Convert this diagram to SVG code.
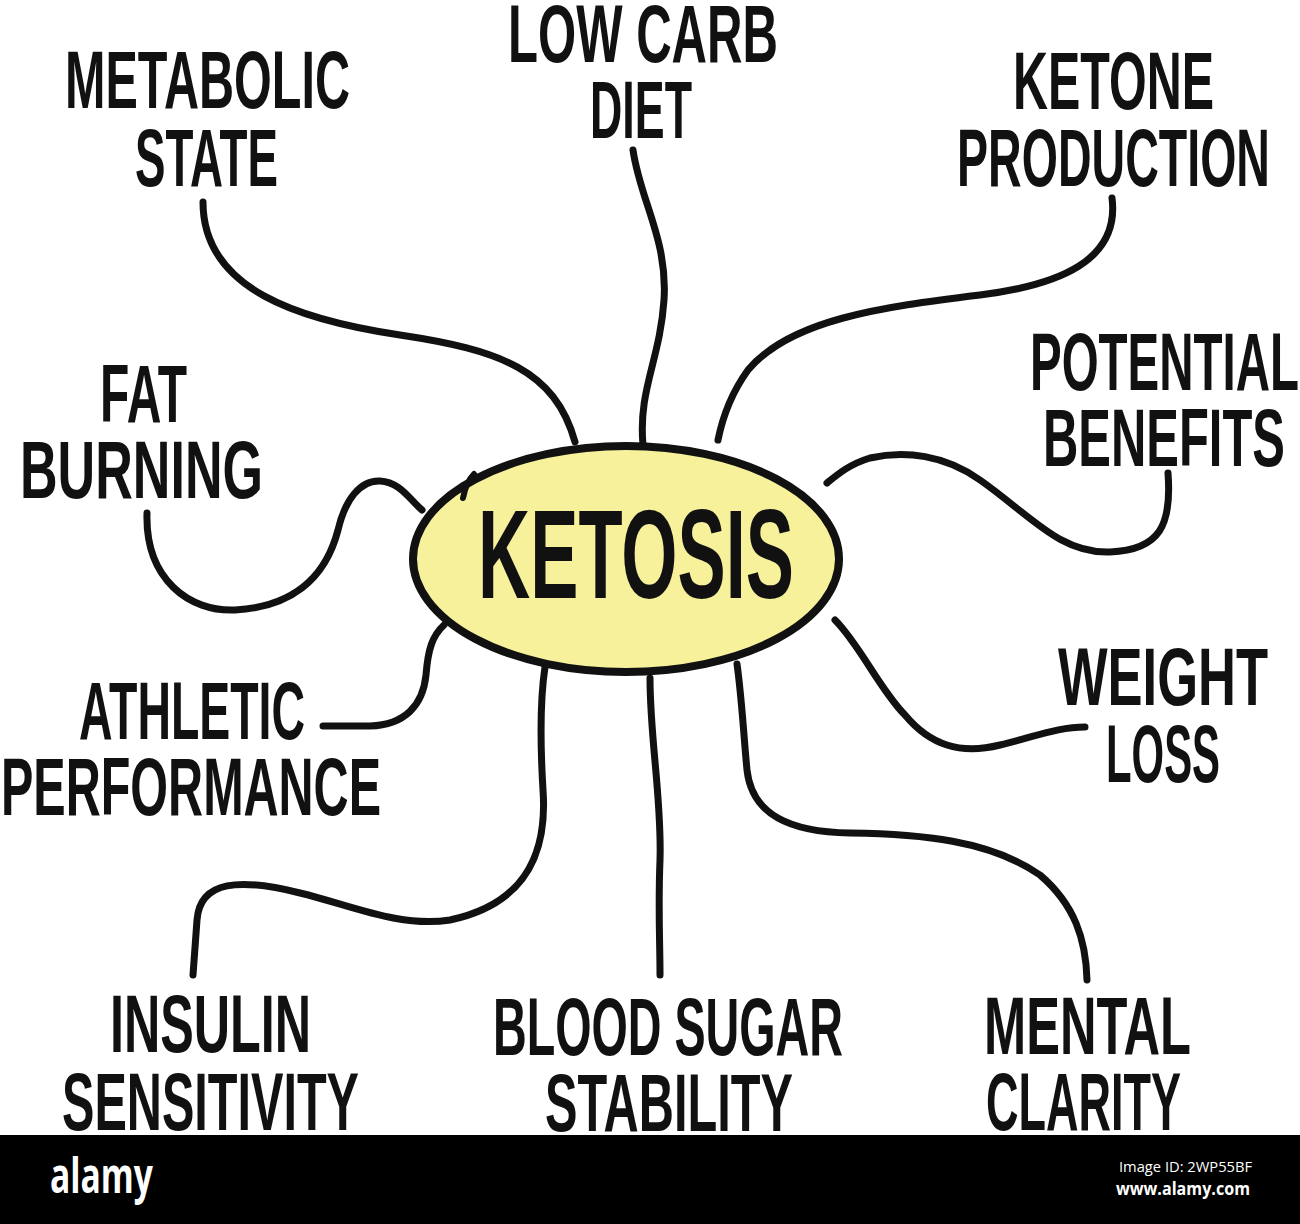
<svg xmlns="http://www.w3.org/2000/svg" width="1300" height="1224" viewBox="0 0 1300 1224">
  <defs>
    <style>
      .lbl { font-family: "Liberation Sans", "DejaVu Sans", sans-serif; font-weight: bold; fill: #111; }
      .conn { fill: none; stroke: #111; stroke-width: 7; stroke-linecap: round; stroke-linejoin: round; }
      .wm { font-family: "Open Sans", "DejaVu Sans", sans-serif; fill: #fff; }
    </style>
  </defs>
  <rect x="0" y="0" width="1300" height="1224" fill="#ffffff"/>

  <g id="connectors">
    <path class="conn" d="M203,202 C203,290 300,320 400,335 C500,350 555,370 575,442"/>
    <path class="conn" d="M633,150 C640,200 668,240 664,300 C660,360 638,390 643,445"/>
    <path class="conn" d="M1112,198 C1120,260 1060,285 980,295 C880,307 790,320 748,370 C730,395 722,420 718,440"/>
    <path class="conn" d="M1168,473 C1172,525 1160,550 1110,552 C1060,554 1030,515 980,480 C945,455 905,450 870,458 C850,464 838,474 827,483"/>
    <path class="conn" d="M147,513 C145,580 190,612 235,610 C290,607 325,580 338,530 C345,500 360,480 380,481 C400,482 410,500 422,510"/>
    <path class="conn" d="M444,625 C432,636 428,650 426,675 C423,705 405,725 370,726 L323,726"/>
    <path class="conn" d="M835,620 C860,645 880,690 905,715 C930,745 960,755 1000,745 C1040,735 1060,727 1085,727"/>
    <path class="conn" d="M737,664 C742,700 744,740 747,770 C752,815 790,832 850,833 C920,834 990,840 1040,875 C1075,905 1086,940 1087,980"/>
    <path class="conn" d="M650,678 C650,740 662,800 660,860 C658,910 660,940 660,975"/>
    <path class="conn" d="M545,667 C540,700 540,740 543,790 C548,860 520,905 450,920 C400,928 350,905 300,893 C240,878 200,880 197,920 L193,975"/>
  </g>

  <g id="ketosis">
    <ellipse cx="626" cy="559" rx="213" ry="113" fill="#f7f19c" stroke="#111" stroke-width="8"/>
    <path d="M463,498 C465,488 468,480 474,474" fill="none" stroke="#111" stroke-width="6" stroke-linecap="round"/>
    <text class="lbl" x="636" y="598" font-size="126" text-anchor="middle" textLength="316" lengthAdjust="spacingAndGlyphs">KETOSIS</text>
  </g>

  <g id="metabolic-state">
    <text class="lbl" x="65" y="108" font-size="82" textLength="285" lengthAdjust="spacingAndGlyphs">METABOLIC</text>
    <text class="lbl" x="135" y="186" font-size="82" textLength="143" lengthAdjust="spacingAndGlyphs">STATE</text>
  </g>
  <g id="low-carb-diet">
    <text class="lbl" x="508" y="62" font-size="82" textLength="270" lengthAdjust="spacingAndGlyphs">LOW CARB</text>
    <text class="lbl" x="590" y="138" font-size="82" textLength="102" lengthAdjust="spacingAndGlyphs">DIET</text>
  </g>
  <g id="ketone-production">
    <text class="lbl" x="1214" y="109" font-size="82" text-anchor="end" textLength="201" lengthAdjust="spacingAndGlyphs">KETONE</text>
    <text class="lbl" x="1270" y="186" font-size="82" text-anchor="end" textLength="313" lengthAdjust="spacingAndGlyphs">PRODUCTION</text>
  </g>
  <g id="potential-benefits">
    <text class="lbl" x="1299" y="390" font-size="82" text-anchor="end" textLength="269" lengthAdjust="spacingAndGlyphs">POTENTIAL</text>
    <text class="lbl" x="1285" y="466" font-size="82" text-anchor="end" textLength="242" lengthAdjust="spacingAndGlyphs">BENEFITS</text>
  </g>
  <g id="fat-burning">
    <text class="lbl" x="100" y="422" font-size="82" textLength="87" lengthAdjust="spacingAndGlyphs">FAT</text>
    <text class="lbl" x="20" y="498" font-size="82" textLength="243" lengthAdjust="spacingAndGlyphs">BURNING</text>
  </g>
  <g id="athletic-performance">
    <text class="lbl" x="79" y="739" font-size="82" textLength="226" lengthAdjust="spacingAndGlyphs">ATHLETIC</text>
    <text class="lbl" x="1" y="815" font-size="82" textLength="380" lengthAdjust="spacingAndGlyphs">PERFORMANCE</text>
  </g>
  <g id="weight-loss">
    <text class="lbl" x="1268" y="705" font-size="82" text-anchor="end" textLength="210" lengthAdjust="spacingAndGlyphs">WEIGHT</text>
    <text class="lbl" x="1220" y="782" font-size="82" text-anchor="end" textLength="114" lengthAdjust="spacingAndGlyphs">LOSS</text>
  </g>
  <g id="insulin-sensitivity">
    <text class="lbl" x="110" y="1052" font-size="82" textLength="201" lengthAdjust="spacingAndGlyphs">INSULIN</text>
    <text class="lbl" x="62" y="1130" font-size="82" textLength="297" lengthAdjust="spacingAndGlyphs">SENSITIVITY</text>
  </g>
  <g id="blood-sugar-stability">
    <text class="lbl" x="493" y="1055" font-size="82" textLength="350" lengthAdjust="spacingAndGlyphs">BLOOD SUGAR</text>
    <text class="lbl" x="545" y="1131" font-size="82" textLength="248" lengthAdjust="spacingAndGlyphs">STABILITY</text>
  </g>
  <g id="mental-clarity">
    <text class="lbl" x="1191" y="1054" font-size="82" text-anchor="end" textLength="207" lengthAdjust="spacingAndGlyphs">MENTAL</text>
    <text class="lbl" x="1181" y="1130" font-size="82" text-anchor="end" textLength="195" lengthAdjust="spacingAndGlyphs">CLARITY</text>
  </g>

  <g id="footer">
    <rect x="0" y="1135" width="1300" height="89" fill="#000"/>
    <text class="wm" x="50" y="1193" font-size="48" font-weight="bold" textLength="103" lengthAdjust="spacingAndGlyphs">alamy</text>
    <text class="wm" x="1119" y="1172" font-size="15" textLength="133" lengthAdjust="spacingAndGlyphs">Image ID: 2WP55BF</text>
    <text class="wm" x="1116" y="1195" font-size="17" font-weight="bold" textLength="134" lengthAdjust="spacingAndGlyphs">www.alamy.com</text>
  </g>
</svg>
